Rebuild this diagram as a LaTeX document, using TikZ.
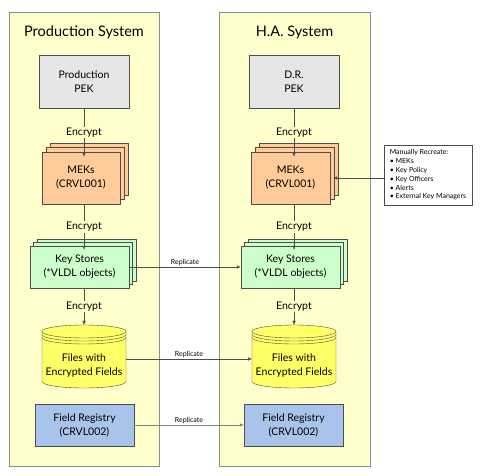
\documentclass[tikz,border=0pt]{standalone}
\usepackage{fontspec}
\setmainfont{Lato}
\usetikzlibrary{arrows.meta, positioning, shadows}
\definecolor{panelFill}{HTML}{FFFFCC}
\definecolor{panelLine}{HTML}{8C8C8C}
\definecolor{pekFill}{HTML}{E6E6E6}
\definecolor{mekFill}{HTML}{FFCC99}
\definecolor{storeFill}{HTML}{CCFFCC}
\definecolor{fileFill}{HTML}{FFFF66}
\definecolor{regFill}{HTML}{A9C4EB}
\definecolor{lineCol}{HTML}{4D4D4D}
\tikzset{
	sysbox/.style={draw=panelLine, fill=panelFill, minimum width=#1, minimum height=454pt, inner sep=0pt},
	systitle/.style={font=\fontsize{14.5}{17}\selectfont},
	keybox/.style={draw=lineCol, fill=#1, align=center, font=\fontsize{10.5}{14}\selectfont, inner sep=0pt},
	stackbox/.style n args={2}{keybox=#1, double copy shadow={shadow xshift=#2, shadow yshift=#2, fill=#1, draw=lineCol}},
	flowarr/.style={-{Latex[length=4pt, width=3.5pt]}, draw=lineCol},
	steplabel/.style={fill=panelFill, font=\fontsize{10.5}{12}\selectfont, inner sep=1pt},
	replabel/.style={above, font=\fontsize{7}{8}\selectfont, inner sep=1.5pt},
}
% data store drawn as a cylinder with two rings under the lid
\newcommand{\filestore}[2]{%
	\filldraw[draw=lineCol, fill=fileFill] (#1-42,-331.5) -- (#1-42,-381.5)
		arc[start angle=180, end angle=360, x radius=42, y radius=6.5] -- (#1+42,-331.5)
		arc[start angle=0, end angle=180, x radius=42, y radius=6.5] -- cycle;
	\foreach \dy in {0,3,6}
		\draw[lineCol] (#1-42,-331.5-\dy) arc[start angle=180, end angle=360, x radius=42, y radius=6.5];
	\coordinate (#2top) at (#1,-325);
	\coordinate (#2w) at (#1-42,-359);
	\coordinate (#2e) at (#1+42,-359);
}
\begin{document}
\begin{tikzpicture}[x=1pt, y=1pt]
	\useasboundingbox (0,0) rectangle (480,-476);
	% systems
	\node[sysbox=150pt] (prodSys) at (84,-239) {};
	\node[sysbox=151pt] (haSys) at (294.5,-239) {};
	\node[systitle] (prodTitle) at (84,-32) {Production System};
	\node[systitle] (haTitle) at (294.5,-32) {H.A. System};

	% production side
	\node[keybox=pekFill, minimum width=90pt, minimum height=53pt] (pekP) at (84,-81.5) {Production\\PEK};
	\node[stackbox={mekFill}{4.3pt}, minimum width=78pt, minimum height=52pt] (mekP) at (81,-178) {MEKs\\(CRVL001)};
	\node[stackbox={storeFill}{3.5pt}, minimum width=99pt, minimum height=42pt] (ksP) at (79.5,-267) {Key Stores\\(*VLDL objects)};
	\filestore{84}{fileP}
	\node[font=\fontsize{10.5}{14}\selectfont, align=center] (fileP) at (84,-366) {Files with\\Encrypted Fields};
	\node[keybox=regFill, minimum width=99pt, minimum height=42pt] (regP) at (84.5,-425) {Field Registry\\(CRVL002)};

	% H.A. side
	\node[keybox=pekFill, minimum width=90pt, minimum height=53pt] (pekH) at (294,-81.5) {D.R.\\PEK};
	\node[stackbox={mekFill}{4.3pt}, minimum width=79pt, minimum height=52pt] (mekH) at (290.5,-178) {MEKs\\(CRVL001)};
	\node[stackbox={storeFill}{3.5pt}, minimum width=99pt, minimum height=42pt] (ksH) at (290.5,-267) {Key Stores\\(*VLDL objects)};
	\filestore{294}{fileH}
	\node[font=\fontsize{10.5}{14}\selectfont, align=center] (fileH) at (294,-366) {Files with\\Encrypted Fields};
	\node[keybox=regFill, minimum width=99pt, minimum height=42pt] (regH) at (293.5,-425) {Field Registry\\(CRVL002)};

	% encrypt chain
	\foreach \s in {P,H} {
		\draw[flowarr, shorten >=-5pt] (pek\s.south) -- (pek\s.south |- mek\s.north) node[steplabel, midway, yshift=-2.5pt] {Encrypt};
		\draw[flowarr, shorten >=-4pt] (pek\s.south |- mek\s.south) -- (pek\s.south |- ks\s.north) node[steplabel, midway, yshift=-2pt] {Encrypt};
		\draw[flowarr] (pek\s.south |- ks\s.south) -- (file\s top) node[steplabel, midway] {Encrypt};
	}

	% replication
	\draw[flowarr] (ksP.east) -- (ksH.west) node[replabel, midway] {Replicate};
	\draw[flowarr] (filePe) -- (fileHw) node[replabel, midway] {Replicate};
	\draw[flowarr, draw=gray] (regP.east) -- (regH.west) node[replabel, midway] {Replicate};

	% manual steps
	\node[draw=lineCol, fill=white, align=left, font=\fontsize{7}{8.8}\selectfont, inner sep=3pt, minimum width=88pt, minimum height=60pt] (manual) at (428,-175)
		{Manually Recreate:\\• MEKs\\• Key Policy\\• Key Officers\\• Alerts\\• External Key Managers};
	\draw[flowarr] (manual.west |- mekH) -- ([xshift=3pt]mekH.east);
\end{tikzpicture}
\end{document}
